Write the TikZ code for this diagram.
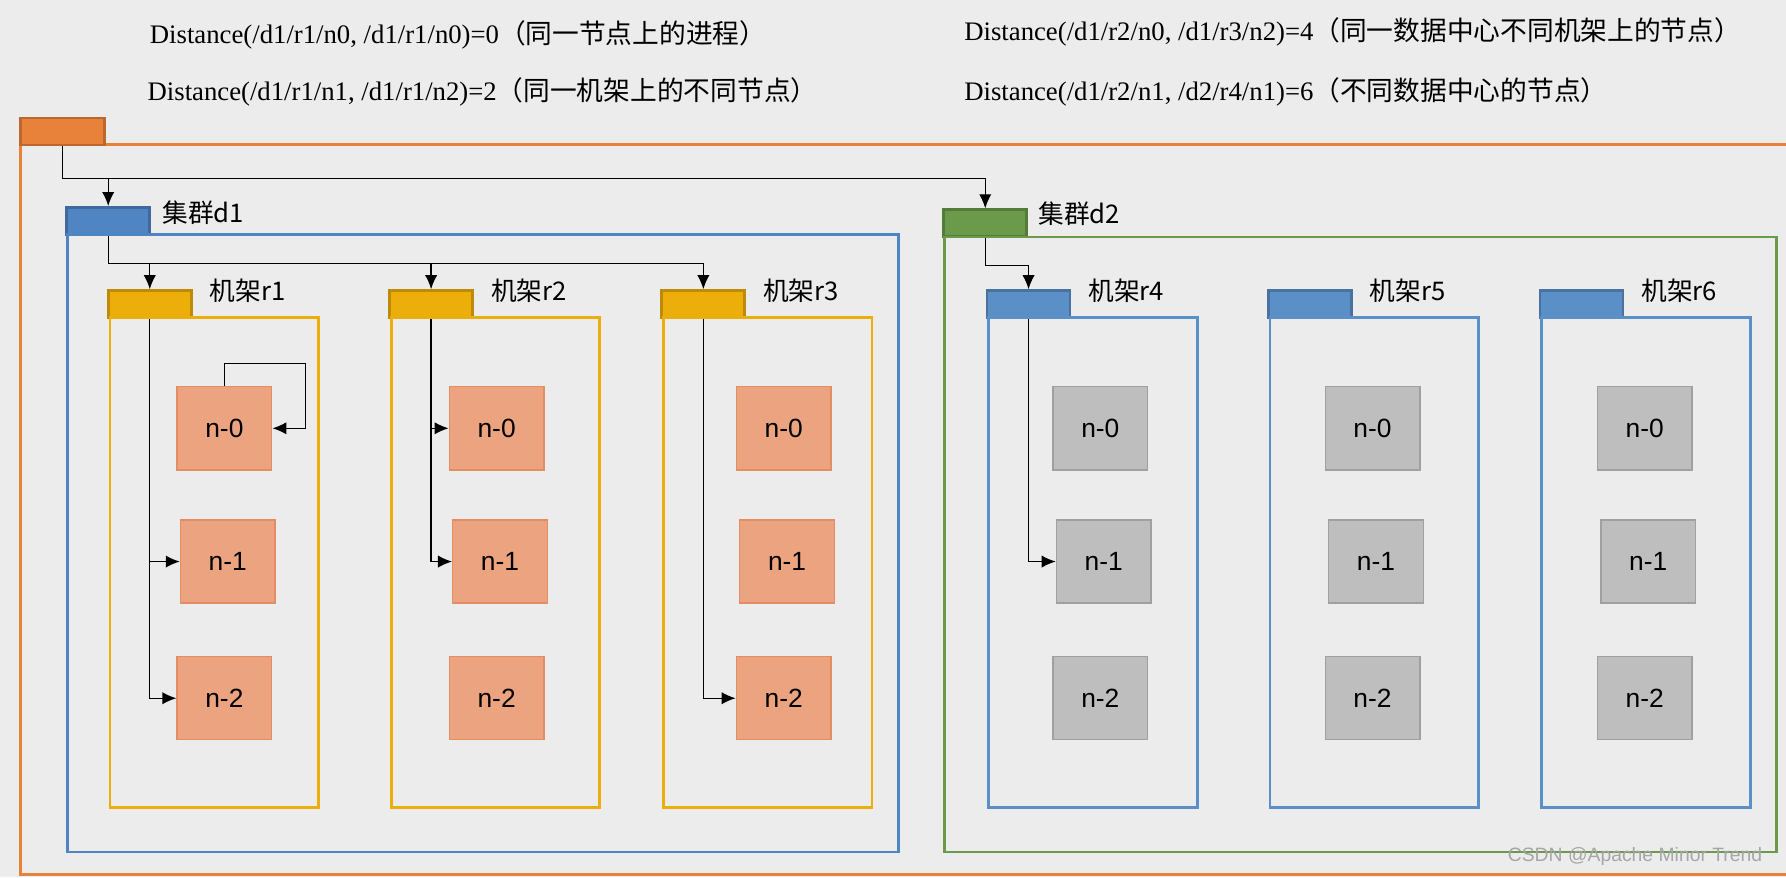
\documentclass[tikz,border=0pt]{standalone}
\usepackage{fontspec}
\setmainfont{Liberation Serif}
\setsansfont{Liberation Sans}
\newfontfamily\cjk{Noto Sans CJK SC}
\usetikzlibrary{arrows,arrows.meta,positioning,calc}
\definecolor{bgc}{RGB}{236,236,236}
\definecolor{orng}{RGB}{232,130,58}
\definecolor{bluec}{RGB}{80,133,196}
\definecolor{bluel}{RGB}{91,143,200}
\definecolor{grnc}{RGB}{106,154,74}
\definecolor{gold}{RGB}{236,174,10}
\definecolor{salm}{RGB}{236,163,128}
\definecolor{salmd}{RGB}{228,140,100}
\definecolor{greyn}{RGB}{190,190,190}
\definecolor{greyd}{RGB}{160,160,160}
\tikzset{
  arr/.style={-{Latex[length=4pt,width=3.5pt]},black,line width=0.4pt},
  tab/.style={draw,minimum width=0.83cm,minimum height=0.27cm,inner sep=0pt,line width=0.8pt},
  node/.style={draw,minimum width=0.945cm,minimum height=0.83cm,inner sep=0pt,
    font=\sffamily\fontsize{7.5}{8}\selectfont},
  hot/.style={node,fill=salm,draw=salmd},
  cold/.style={node,fill=greyn,draw=greyd},
  lbl/.style={anchor=west,inner sep=0pt,font=\cjk\fontsize{7.3}{8}\selectfont},
  dist/.style={anchor=west,inner sep=0pt,font=\fontsize{7.6}{8}\selectfont}
}
\begin{document}
\begin{tikzpicture}[x=0.01139cm,y=-0.01139cm]
\useasboundingbox (0,0) rectangle (1568,770);
\fill[bgc] (0,0) rectangle (1568,770);
% distances
\node[dist] at (131,31) {Distance(/d1/r1/n0, /d1/r1/n0)=0{\cjk （同一节点上的进程）}};
\node[dist] at (129,81) {Distance(/d1/r1/n1, /d1/r1/n2)=2{\cjk （同一机架上的不同节点）}};
\node[dist] at (846,28) {Distance(/d1/r2/n0, /d1/r3/n2)=4{\cjk （同一数据中心不同机架上的节点）}};
\node[dist] at (846,81) {Distance(/d1/r2/n1, /d2/r4/n1)=6{\cjk （不同数据中心的节点）}};
% outer
\draw[orng,line width=0.8pt] (18,127) -- (1568,127) (18,127) -- (18,768) -- (1568,768);
\node[tab,fill=orng,draw=orng!80!black,minimum width=0.84cm] (ot) at (55,115.5) {};
% data centres
\node[tab,fill=bluec,draw=bluec!80!black] (d1) at (95,194) {};
\node[lbl] at (142,187) {集群d1};
\draw[bluec,line width=0.8pt] (59,206) rectangle (789,748);
\node[tab,fill=grnc,draw=grnc!80!black] (d2) at (865,196) {};
\node[lbl] at (911,188) {集群d2};
\draw[grnc,line width=0.8pt] (829,208) rectangle (1560,748);
% racks
\foreach \r/\x/\c in {r1/131.5/gold,r2/378.5/gold,r3/617.5/gold,r4/903/bluel,r5/1150/bluel,r6/1388.5/bluel}{
  \node[tab,fill=\c,draw=\c!80!black] (\r) at (\x,267) {};
  \node[lbl] at (\x+52,255) {机架\r};
  \draw[\c,line width=0.8pt] (\x-35,279) rectangle (\x+148,709);
}
% nodes
\foreach \r/\x/\s in {r1/197/hot,r2/436/hot,r3/688/hot,r4/966/cold,r5/1205/cold,r6/1444/cold}{
  \node[\s] (\r n0) at (\x,376) {n-0};
  \node[\s] (\r n1) at (\x+3,493) {n-1};
  \node[\s] (\r n2) at (\x,613) {n-2};
}
% links
\draw[arr] (ot.south) -- ++(0,28) -| (d1.north);
\draw[arr] (ot.south) ++(0,28) -| (d2.north);
\draw[arr] (d1.south) -- ++(0,24) -| (r1.north);
\draw[arr] (d1.south) ++(0,24) -| (r2.north);
\draw[arr] (d1.south) ++(0,24) -| (r3.north);
\draw[arr] (d2.south) -- ++(0,24) -| (r4.north);
\draw[arr] (r1n0.north) -- ++(0,-20) -- ++(71,0) |- (r1n0.east);
\draw[arr] (r1.south) |- (r1n1.west);
\draw[arr] (r1.south) |- (r1n2.west);
\draw[arr] (r2.south) |- (r2n0.west);
\draw[arr] (r2.south) |- (r2n1.west);
\draw[arr] (r3.south) |- (r3n2.west);
\draw[arr] (r4.south) |- (r4n1.west);
\node[anchor=east,text=black!35,font=\sffamily\fontsize{5.5}{6}\selectfont] at (1558,752) {CSDN @Apache Minor Trend};
\end{tikzpicture}
\end{document}
